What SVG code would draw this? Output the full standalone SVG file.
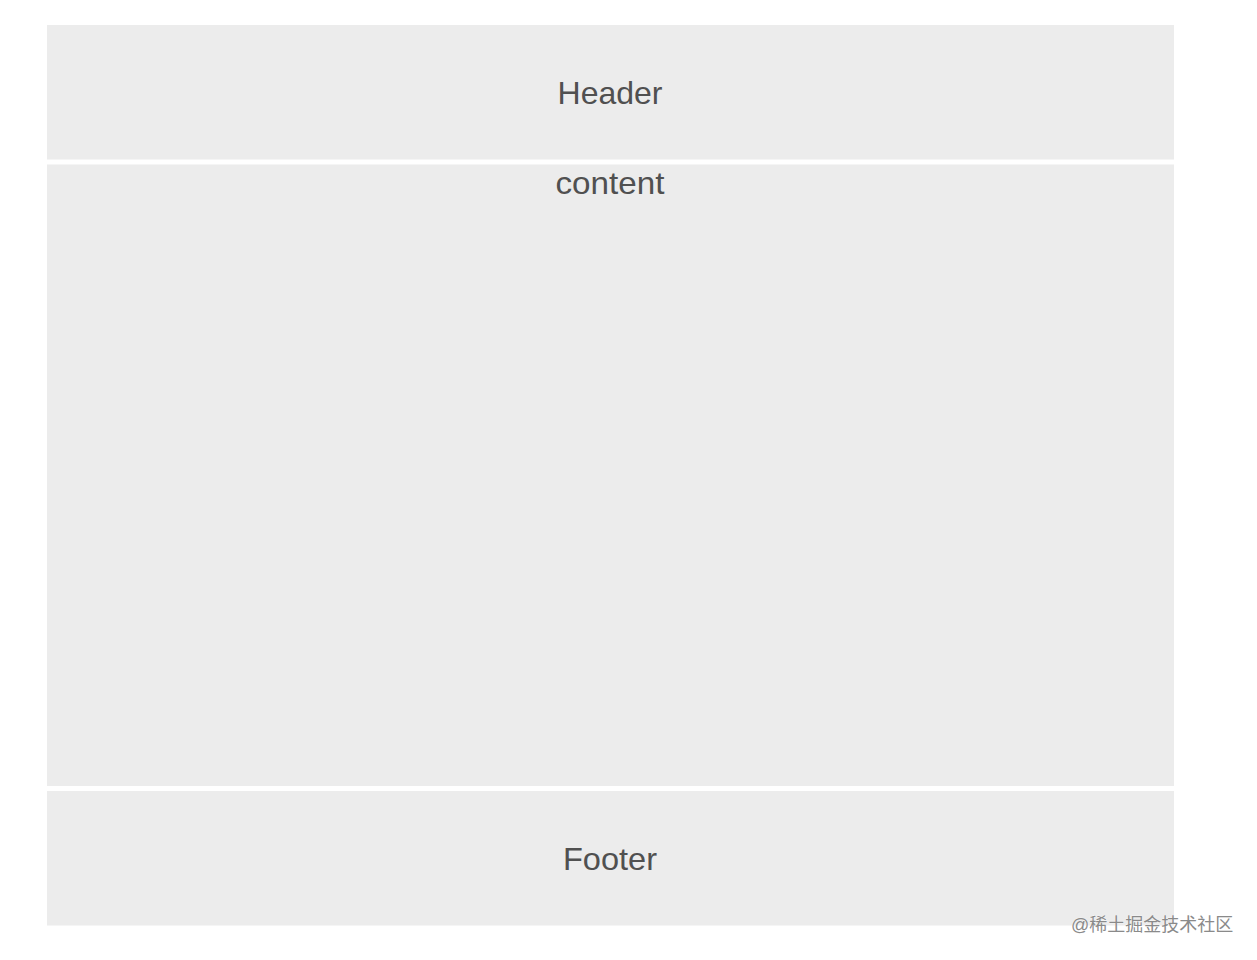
<svg xmlns="http://www.w3.org/2000/svg" width="1257" height="960" viewBox="0 0 1257 960">
<style>
.box{fill:#ececec}
.lbl{font-family:"Liberation Sans",Arial,sans-serif;font-size:32px;fill:#505050;text-anchor:middle}
.wm{font-family:"Liberation Sans","Noto Sans CJK SC",sans-serif;font-size:18px;fill:#8a8a8a;stroke:#ffffff;stroke-width:0.6;paint-order:stroke}
</style>
<rect width="1257" height="960" fill="#ffffff"/>
<g id="header">
<rect class="box" x="47" y="25" width="1127" height="134.5"/>
<text class="lbl" x="610" y="104">Header</text>
</g>
<g id="content">
<rect class="box" x="47" y="164.5" width="1127" height="621.5"/>
<text class="lbl" x="610" y="194" textLength="109" lengthAdjust="spacingAndGlyphs">content</text>
</g>
<g id="footer">
<rect class="box" x="47" y="791" width="1127" height="134.5"/>
<text class="lbl" x="610" y="870" textLength="94" lengthAdjust="spacingAndGlyphs">Footer</text>
</g>
<g id="connectors"></g>
<text class="wm" x="1071" y="931">@稀土掘金技术社区</text>
</svg>
